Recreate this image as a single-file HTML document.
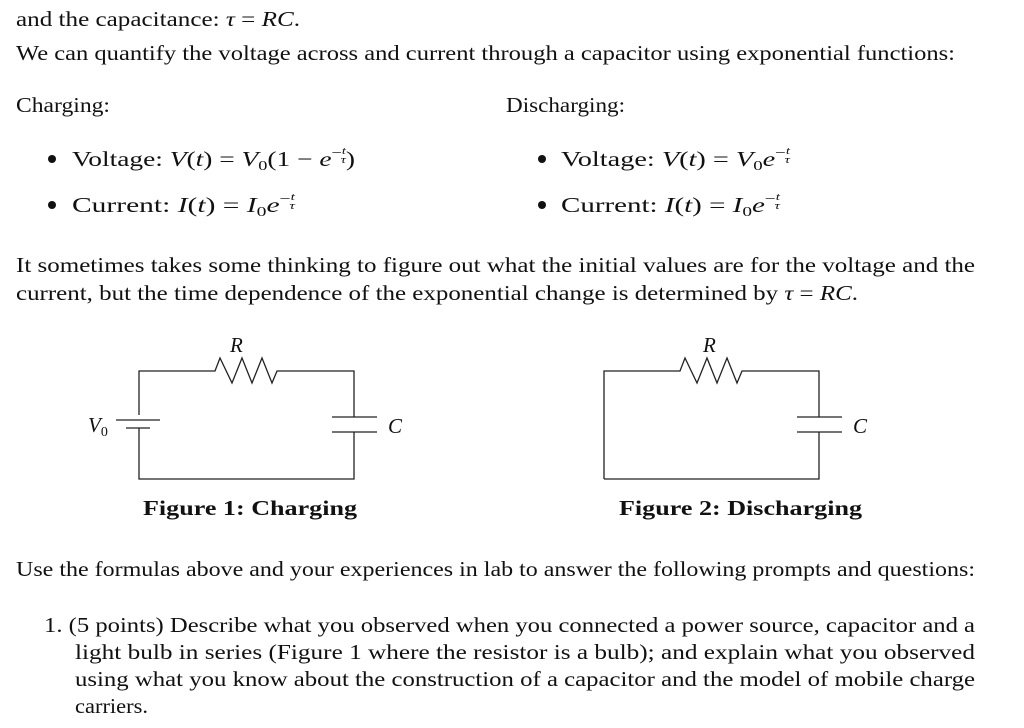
<!DOCTYPE html>
<html><head><meta charset="utf-8"><style>
html,body{margin:0;padding:0;background:#fff;}
svg{display:block;}
text{font-family:"Liberation Serif",serif;font-size:21px;fill:#111;}
.i{font-style:italic;}
.b{font-weight:bold;}
.s{font-size:14px;}
.ss{font-size:11px;}
</style></head><body>
<svg width="1024" height="728" viewBox="0 0 1024 728" xmlns="http://www.w3.org/2000/svg">
<text x="16" y="26" textLength="284" lengthAdjust="spacingAndGlyphs">and the capacitance: <tspan class="i">τ</tspan> = <tspan class="i">RC</tspan>.</text>
<text x="16" y="60" textLength="939" lengthAdjust="spacingAndGlyphs">We can quantify the voltage across and current through a capacitor using exponential functions:</text>
<text x="16" y="112" textLength="94" lengthAdjust="spacingAndGlyphs">Charging:</text>
<text x="506" y="112" textLength="119" lengthAdjust="spacingAndGlyphs">Discharging:</text>

<circle cx="52" cy="159" r="4" fill="#111"/>
<text x="72" y="166" textLength="283" lengthAdjust="spacingAndGlyphs">Voltage: <tspan class="i">V</tspan>(<tspan class="i">t</tspan>) = <tspan class="i">V</tspan><tspan class="s" dy="4">0</tspan><tspan dy="-4">(1 − </tspan><tspan class="i">e</tspan><tspan class="s" dy="-9">−</tspan><tspan class="ss i" dy="-3">t</tspan><tspan class="ss i" dx="-4" dy="9">τ</tspan><tspan dy="3">)</tspan></text>
<circle cx="52" cy="205" r="4" fill="#111"/>
<text x="72" y="212" textLength="223" lengthAdjust="spacingAndGlyphs">Current: <tspan class="i">I</tspan>(<tspan class="i">t</tspan>) = <tspan class="i">I</tspan><tspan class="s" dy="4">0</tspan><tspan class="i" dy="-4">e</tspan><tspan class="s" dy="-9">−</tspan><tspan class="ss i" dy="-3">t</tspan><tspan class="ss i" dx="-4" dy="9">τ</tspan></text>

<circle cx="542" cy="159" r="4" fill="#111"/>
<text x="561" y="166" textLength="229" lengthAdjust="spacingAndGlyphs">Voltage: <tspan class="i">V</tspan>(<tspan class="i">t</tspan>) = <tspan class="i">V</tspan><tspan class="s" dy="4">0</tspan><tspan class="i" dy="-4">e</tspan><tspan class="s" dy="-9">−</tspan><tspan class="ss i" dy="-3">t</tspan><tspan class="ss i" dx="-4" dy="9">τ</tspan></text>
<circle cx="542" cy="205" r="4" fill="#111"/>
<text x="561" y="212" textLength="219" lengthAdjust="spacingAndGlyphs">Current: <tspan class="i">I</tspan>(<tspan class="i">t</tspan>) = <tspan class="i">I</tspan><tspan class="s" dy="4">0</tspan><tspan class="i" dy="-4">e</tspan><tspan class="s" dy="-9">−</tspan><tspan class="ss i" dy="-3">t</tspan><tspan class="ss i" dx="-4" dy="9">τ</tspan></text>

<text x="16" y="272" textLength="959" lengthAdjust="spacingAndGlyphs">It sometimes takes some thinking to figure out what the initial values are for the voltage and the</text>
<text x="16" y="300" textLength="842" lengthAdjust="spacingAndGlyphs">current, but the time dependence of the exponential change is determined by <tspan class="i">τ</tspan> = <tspan class="i">RC</tspan>.</text>

<g stroke="#222" stroke-width="1.3" fill="none">
<polyline points="139,415 139,371 215,371 220,358 232,383 242,358 252,383 262,358 272,383 277,371 354,371 354,417"/>
<line x1="116" y1="420" x2="160" y2="420"/>
<line x1="126" y1="428" x2="150" y2="428"/>
<polyline points="139,428 139,479 354,479 354,432"/>
<line x1="332" y1="417" x2="377" y2="417"/>
<line x1="332" y1="432" x2="377" y2="432"/>
<polyline points="604,479 604,371 680,371 685,358 697,383 707,358 717,383 727,358 737,383 742,371 819,371 819,417"/>
<polyline points="604,479 819,479 819,432"/>
<line x1="797" y1="417" x2="842" y2="417"/>
<line x1="797" y1="432" x2="842" y2="432"/>
</g>
<text x="230" y="352" class="i">R</text>
<text x="703" y="352" class="i">R</text>
<text x="88" y="432" class="i">V<tspan class="s" dy="4" style="font-style:normal">0</tspan></text>
<text x="388" y="433" class="i">C</text>
<text x="853" y="433" class="i">C</text>
<text x="143" y="515" class="b" textLength="214" lengthAdjust="spacingAndGlyphs">Figure 1: Charging</text>
<text x="619" y="515" class="b" textLength="243" lengthAdjust="spacingAndGlyphs">Figure 2: Discharging</text>

<text x="16" y="576" textLength="959" lengthAdjust="spacingAndGlyphs">Use the formulas above and your experiences in lab to answer the following prompts and questions:</text>
<text x="44" y="632" textLength="931" lengthAdjust="spacingAndGlyphs">1. (5 points) Describe what you observed when you connected a power source, capacitor and a</text>
<text x="75" y="659" textLength="900" lengthAdjust="spacingAndGlyphs">light bulb in series (Figure 1 where the resistor is a bulb); and explain what you observed</text>
<text x="75" y="686" textLength="900" lengthAdjust="spacingAndGlyphs">using what you know about the construction of a capacitor and the model of mobile charge</text>
<text x="75" y="713" textLength="73" lengthAdjust="spacingAndGlyphs">carriers.</text>
</svg>
</body></html>
